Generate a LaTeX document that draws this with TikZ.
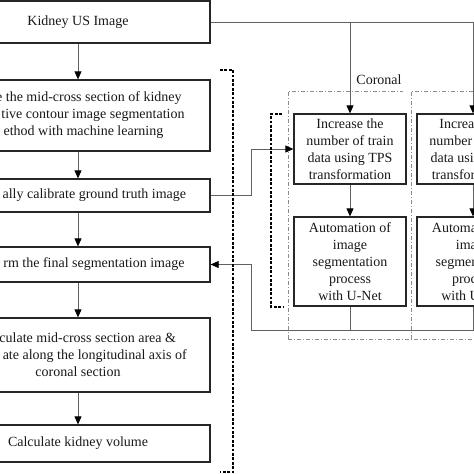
\documentclass[tikz,border=0pt]{standalone}
\usepackage{fontspec}
\setmainfont{Liberation Serif}
\usetikzlibrary{arrows.meta}
\begin{document}
\begin{tikzpicture}[x=1pt,y=-1pt,
  box/.style={draw=black!85, line width=1.3pt, fill=white, align=center, inner sep=0pt, font=\fontsize{14}{17}\selectfont, text=black!90},
  conn/.style={draw=black!62, line width=0.8pt},
  arr/.style={conn, -{Triangle[length=8pt,width=7pt,color=black]}},
  bracketline/.style={draw=black, line width=2.7pt, dash pattern=on 2.7pt off 1.7pt},
  framebox/.style={draw=black!45, line width=0.7pt, dash pattern=on 4pt off 2pt on 1pt off 2pt},
  lbl/.style={font=\fontsize{14}{17}\selectfont, text=black!90, inner sep=0pt}]
\useasboundingbox (0,0) rectangle (474,474);
\clip (0,0) rectangle (474,474);
\fill[white] (0,0) rectangle (474,474);

% dash-dot frames
\draw[framebox] (288,339) -- (288,91) -- (403,91);
\draw[framebox] (411,339) -- (411,91) -- (480,91);
\draw[framebox] (288,339) -- (480,339);
\node[lbl] (cor) at (379,80) {Coronal};

% left column
\node[box, minimum width=264pt, minimum height=42pt] (kid) at (78,22) {Kidney US Image};
\node[box, minimum width=264pt, minimum height=71pt] (b2) at (78,115.5) {\hphantom{Loc}e the mid-cross section of kidney\\\hphantom{by ac}tive contour image segmentation\\\hphantom{m}ethod with machine learning};
\node[box, minimum width=264pt, minimum height=33pt] (b3) at (78,195.5) {\hphantom{Manu}ally calibrate ground truth image};
\node[box, minimum width=264pt, minimum height=35pt] (b4) at (78,264.5) {\hphantom{Confi}rm the final segmentation image};
\node[box, minimum width=264pt, minimum height=74pt] (b5) at (78,355) {\hphantom{Cal}culate mid-cross section area \&\\\hphantom{Integr}ate along the longitudinal axis of\\coronal section};
\node[box, minimum width=264pt, minimum height=37pt] (b6) at (78,443.5) {Calculate kidney volume};

% right columns
\node[box, minimum width=112pt, minimum height=70pt] (tps1) at (350,149) {Increase the\\number of train\\data using TPS\\transformation};
\node[box, minimum width=112pt, minimum height=89pt] (unet1) at (350,261.5) {Automation of\\image\\segmentation\\process\\with U-Net};
\node[box, minimum width=112pt, minimum height=70pt] (tps2) at (473,149) {Increa\hphantom{se the}\\number\hphantom{ of train}\\data usi\hphantom{ng TPS}\\transfor\hphantom{mation}};
\node[box, minimum width=112pt, minimum height=89pt] (unet2) at (473,261.5) {Automa\hphantom{tion of}\\ima\hphantom{ge}\\segmen\hphantom{tation}\\proc\hphantom{ess}\\with U\hphantom{-Net}};

% connectors
\draw[arr] (kid) -- (b2);
\draw[arr] (b2) -- (b3);
\draw[arr] (b3) -- (b4);
\draw[arr] (b4) -- (b5);
\draw[arr] (b5) -- (b6);
\coordinate (j1) at (350,22);
\draw[arr] (kid.east) -| (tps2.north);
\draw[arr] (j1) -- (tps1.north);
\draw[arr] (b3.east) -- ++(41,0) |- (tps1.west);
\draw[arr] (tps1) -- (unet1);
\draw[arr] (tps2) -- (unet2);
\coordinate (rb) at (251,330);
\draw[conn] (unet2.south) |- (rb);
\draw[arr] (unet1.south) |- (rb) |- (b4.east);

% dotted brackets
\draw[bracketline] (220,70) -- (233,70) -- (233,472) -- (220,472);
\draw[bracketline] (282,114) -- (271,114) -- (271,307) -- (283,307);
\end{tikzpicture}
\end{document}
